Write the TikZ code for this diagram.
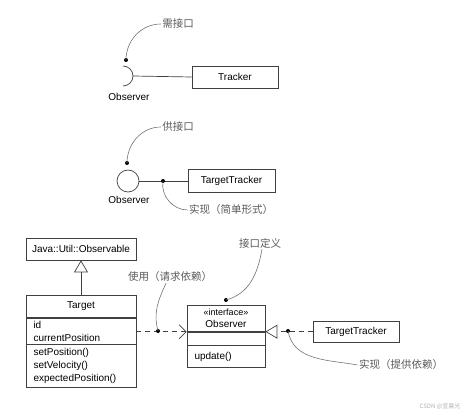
\documentclass[tikz,border=0pt]{standalone}
\usepackage{fontspec}
\setmainfont{Liberation Sans}
\newfontfamily\cjk{Noto Sans CJK SC}
\usetikzlibrary{positioning,arrows.meta}

\begin{document}
\begin{tikzpicture}[x=1pt, y=-1pt, line width=0.7pt,
    box/.style={draw=black!75, minimum height=22pt, inner sep=2pt},
    part/.style={draw=black!75, text width=95pt, inner xsep=7.5pt, inner ysep=1pt, align=left, font=\fontsize{10}{13}\selectfont},
    note/.style={text=black!65, font=\cjk\fontsize{10.5}{12}\selectfont, inner sep=1pt},
    lead/.style={draw=black!55, line width=0.6pt},
    pin/.style={circle, fill=black, inner sep=0pt, minimum size=4pt},
    dep/.style={draw=black!75, dash pattern=on 5pt off 4pt}]

    \useasboundingbox (0,0) rectangle (474,414);

    % interfaccia richiesta
    \node[box, minimum width=86pt] (tracker) at (235,77) {Tracker};
    \coordinate (socktop) at (123,66);
    \coordinate (socket) at (133,76);
    \draw[black!75] (socktop) arc[start angle=90, end angle=-90, radius=10pt];
    \draw[black!75] (socket) -- (tracker.west);
    \node (obs1) at (129,97) {Observer};
    \node[pin] (p1) at (126,60) {};
    \node[note] (need) at (178,24) {需接口};
    \draw[lead] (need.west) to[out=180, in=90] (p1.center);

    % interfaccia fornita
    \node[draw=black!75, circle, minimum size=22pt, inner sep=0pt] (ball) at (128,181) {};
    \node[box, minimum width=87pt, minimum height=23pt] (tt1) at (231.5,181) {TargetTracker};
    \draw[black!75] (ball.east) -- (tt1.west);
    \node (obs2) at (129,200) {Observer};
    \node[pin] (p2) at (127,163) {};
    \node[pin] (p3) at (163,181) {};
    \node[note] (offer) at (178,127) {供接口};
    \node[note] (simple) at (231,210) {实现（简单形式）};
    \draw[lead] (offer.west) to[out=180, in=90] (p2.center);
    \draw[lead] (p3.center) to[out=-100, in=180] (simple.west);

    % classi
    \node[box, minimum width=110pt] (observable) at (81,249) {Java::Util::Observable};
    \node[box, minimum width=110pt, anchor=north] (tname) at (81,295) {Target};
    \node[part, minimum height=26pt, below=0pt of tname] (tattr) {id\\currentPosition};
    \node[part, minimum height=43pt, below=0pt of tattr] (tops) {setPosition()\\setVelocity()\\expectedPosition()};
    \draw[black!75, -{Triangle[open, length=12pt, width=14pt]}] (tname) -- (observable);

    \node[box, minimum width=78pt, minimum height=26pt, anchor=north, align=center, inner sep=1pt,
          font=\fontsize{10}{12}\selectfont] (oname) at (226,305)
          {{\fontsize{9}{10}\selectfont «interface»}\\Observer};
    \node[box, minimum width=78pt, minimum height=13pt, below=0pt of oname] (oattr) {};
    \node[part, text width=63pt, minimum height=22pt, below=0pt of oattr] (oops) {update()};

    \node[box, minimum width=86pt, minimum height=21pt] (tt2) at (356,332) {TargetTracker};

    \draw[dep, -{Straight Barb[length=7pt, width=14pt]}] (tattr.east |- oname.south) -- (oname.south west);
    \draw[dep, -{Triangle[open, length=12pt, width=14pt]}] (tt2.west |- oname.south) -- (oname.south east);

    \node[pin] (p4) at (158,331) {};
    \node[pin] (p5) at (288,331) {};
    \node[pin] (p6) at (226,300) {};
    \node[note] (uses) at (170,277) {使用（请求依赖）};
    \node[note] (defn) at (260,243) {接口定义};
    \node[note] (provide) at (401,365) {实现（提供依赖）};
    \draw[lead] ([xshift=-4pt]uses.south) to[out=-115, in=105] (p4.center);
    \draw[lead] ([xshift=2pt]defn.south) to[out=-100, in=15] (p6.center);
    \draw[lead] (p5.center) to[out=-80, in=170] (provide.west);

    \node[text=black!30, font=\cjk\fontsize{6}{7}\selectfont] (mark) at (440,406) {CSDN @宜晨光};
\end{tikzpicture}
\end{document}
